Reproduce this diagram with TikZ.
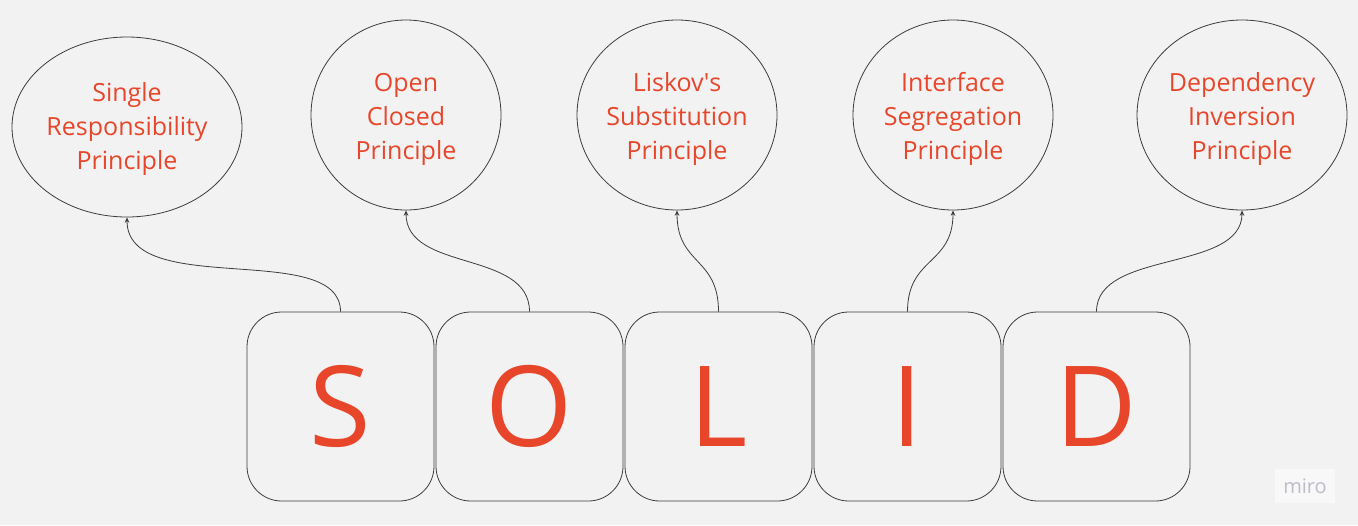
\documentclass[tikz,border=0pt]{standalone}
\usepackage{fontspec}
\setmainfont{Open Sans}
\usepackage{xcolor}
\usetikzlibrary{shapes.geometric, arrows.meta}

\definecolor{miroRed}{HTML}{E8462A}
\definecolor{miroLine}{HTML}{3C3C3C}
\definecolor{miroBack}{HTML}{F2F2F2}
\definecolor{miroMark}{HTML}{BDBCC8}

\tikzset{
  principle/.style={draw=miroLine, line width=0.6pt, ellipse, inner sep=0pt},
  principletext/.style={align=center, inner sep=0pt, text=miroRed, font=\fontsize{18.75}{25.5}\selectfont},
  letterbox/.style={draw=miroLine, line width=0.6pt, rounded corners=26pt, inner sep=0pt,
    minimum width=140.25pt, minimum height=141.75pt, text=miroRed, font=\fontsize{84}{84}\selectfont},
  link/.style={draw=miroLine, line width=0.6pt, -{Stealth[length=4pt,width=3.5pt]}}
}

\begin{document}
\begin{tikzpicture}[x=0.75pt,y=0.75pt,yscale=-1,xscale=1]
        %set diagram to the size of the reference
        \fill [miroBack] (0,0) rectangle (1358,525);
        \useasboundingbox (0,0) rectangle (1358,525);

        %Shape: Ellipse [id:es]
        \node [principle, minimum width=172.5pt, minimum height=135pt] (es) at (127,127) {};
        %Shape: Ellipse [id:eo]
        \node [principle, minimum width=142.5pt, minimum height=142.5pt] (eo) at (406,115) {};
        %Shape: Ellipse [id:el]
        \node [principle, minimum width=150pt, minimum height=142.5pt] (el) at (677,115) {};
        %Shape: Ellipse [id:ei]
        \node [principle, minimum width=150pt, minimum height=142.5pt] (ei) at (953,115) {};
        %Shape: Ellipse [id:ed]
        \node [principle, minimum width=157.5pt, minimum height=142.5pt] (ed) at (1242,115) {};

        % Text Node
        \node [principletext] (ts) at (127,129) {Single\\Responsibility\\Principle};
        % Text Node
        \node [principletext] (to) at (406,119) {Open\\Closed\\Principle};
        % Text Node
        \node [principletext] (tl) at (677,119) {Liskov\textquotesingle s\\Substitution\\Principle};
        % Text Node
        \node [principletext] (ti) at (953,119) {Interface\\Segregation\\Principle};
        % Text Node
        \node [principletext] (td) at (1242,119) {Dependency\\Inversion\\Principle};

        %Shape: Rounded Rect [id:bs]
        \node [letterbox] (bs) at (340.5,406.5) {S};
        %Shape: Rounded Rect [id:bo]
        \node [letterbox] (bo) at (529.5,406.5) {O};
        %Shape: Rounded Rect [id:bl]
        \node [letterbox] (bl) at (718.5,406.5) {L};
        %Shape: Rounded Rect [id:bi]
        \node [letterbox] (bi) at (907.5,406.5) {I};
        %Shape: Rounded Rect [id:bd]
        \node [letterbox] (bd) at (1096.5,406.5) {D};

        %Curve Lines
        \draw [link] (bs.north) .. controls +(0,-72) and +(0,82) .. (es.south);
        \draw [link] (bo.north) .. controls +(0,-62) and +(0,62) .. (eo.south);
        \draw [link] (bl.north) .. controls +(0,-55) and +(0,55) .. (el.south);
        \draw [link] (bi.north) .. controls +(0,-55) and +(0,55) .. (ei.south);
        \draw [link] (bd.north) .. controls +(0,-62) and +(0,62) .. (ed.south);

        % Text Node
        \node [fill=miroBack!50!white, minimum width=45pt, minimum height=25pt, text=miroMark,
          font=\fontsize{15}{15}\selectfont] (mark) at (1305,486) {miro};

\end{tikzpicture}
\end{document}
